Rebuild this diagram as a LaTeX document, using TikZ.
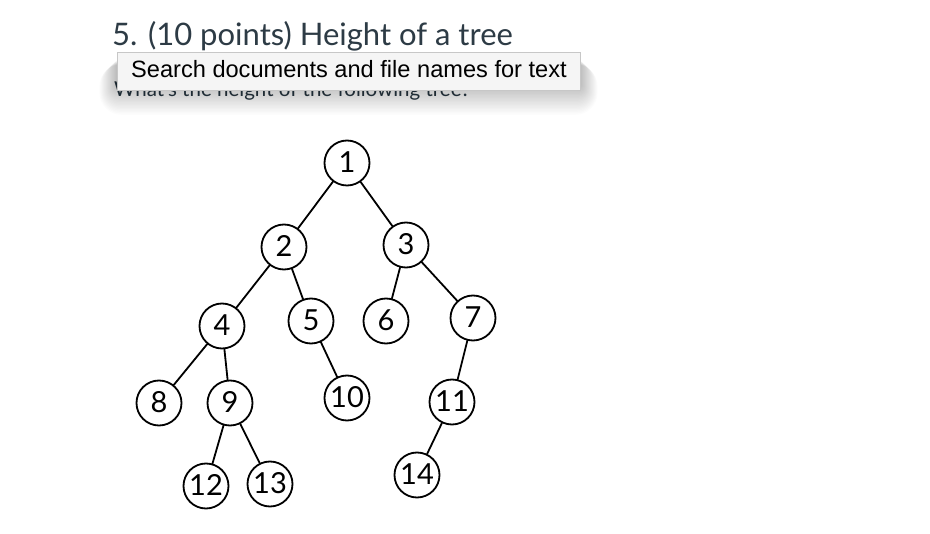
\documentclass[tikz,border=0pt]{standalone}
\usepackage{fontspec}
\setmainfont{Lato}
\newfontfamily\tipfont{Liberation Sans}
\newfontfamily\digitfont{Lato}
\definecolor{canvasgray}{RGB}{45,59,69}
\begin{document}
\begin{tikzpicture}[x=1pt,y=-1pt,
  tnode/.style={draw=black,line width=1.8pt,circle,minimum size=45pt,inner sep=0pt,text height=20pt,text depth=0pt,font=\digitfont\fontsize{29}{29}\selectfont},
  tedge/.style={draw=black,line width=1.8pt,line cap=round},
  titletext/.style={anchor=base west,inner sep=0pt,text=canvasgray,font=\fontsize{31}{31}\selectfont},
  bodytext/.style={anchor=base west,inner sep=0pt,text=canvasgray,font=\fontsize{20.5}{20.5}\selectfont}]
\useasboundingbox (0,0) rectangle (930,534);
\fill[white] (0,0) rectangle (930,534);
% texts
\node[titletext] (title) at (112,46) {5. (10 points) Height of a tree};
\node[bodytext] (question) at (114,97) {What's the height of the following tree?};
% tooltip soft shadow
\foreach \i in {1,...,22}{
  \fill[black,opacity=0.012,rounded corners=\i pt] (117-\i*0.8,60+\i*0.2) rectangle (580+\i*0.8,84+\i*1.4);
}
\node[draw=black!22,fill=black!4,line width=0.8pt,anchor=north west,minimum width=463pt,minimum height=38pt,inner sep=0pt] (tip) at (117,52) {};
\node[anchor=base west,inner sep=0pt,font=\tipfont\fontsize{23.6}{24}\selectfont] (tiptext) at (131,78) {Search documents and file names for text};
% tree
\node[tnode] (n1) at (347,163) {1};
\node[tnode] (n2) at (284,247) {2};
\node[tnode] (n3) at (406,245) {3};
\node[tnode] (n4) at (222,326) {4};
\node[tnode] (n5) at (311,321) {5};
\node[tnode] (n6) at (386,321) {6};
\node[tnode] (n7) at (473,318) {7};
\node[tnode] (n8) at (159,403) {8};
\node[tnode] (n9) at (230,403) {9};
\node[tnode] (n10) at (347,398) {10};
\node[tnode] (n11) at (452,402) {11};
\node[tnode] (n12) at (206,486) {12};
\node[tnode] (n13) at (270,484) {13};
\node[tnode] (n14) at (417,475) {14};
\draw[tedge] (n1) -- (n2);
\draw[tedge] (n1) -- (n3);
\draw[tedge] (n2) -- (n4);
\draw[tedge] (n2) -- (n5);
\draw[tedge] (n3) -- (n6);
\draw[tedge] (n3) -- (n7);
\draw[tedge] (n4) -- (n8);
\draw[tedge] (n4) -- (n9);
\draw[tedge] (n5) -- (n10);
\draw[tedge] (n7) -- (n11);
\draw[tedge] (n9) -- (n12);
\draw[tedge] (n9) -- (n13);
\draw[tedge] (n11) -- (n14);
\end{tikzpicture}
\end{document}
